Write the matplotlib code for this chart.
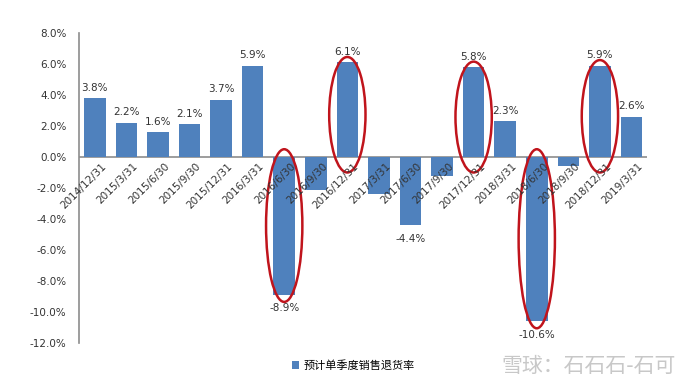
import matplotlib
matplotlib.use("Agg")
import matplotlib.pyplot as plt
from matplotlib.patches import Ellipse

plt.rcParams['font.family'] = ['DejaVu Sans', 'Noto Sans CJK SC']

# data
dates = ['2014/12/31', '2015/3/31', '2015/6/30', '2015/9/30', '2015/12/31',
         '2016/3/31', '2016/6/30', '2016/9/30', '2016/12/31', '2017/3/31',
         '2017/6/30', '2017/9/30', '2017/12/31', '2018/3/31', '2018/6/30',
         '2018/9/30', '2018/12/31', '2019/3/31']
return_rate = [3.8, 2.2, 1.6, 2.1, 3.7, 5.9, -8.9, -2.1, 6.1, -2.4,
               -4.4, -1.2, 5.8, 2.3, -10.6, -0.6, 5.9, 2.6]
labelled = [0, 1, 2, 3, 4, 5, 6, 8, 10, 12, 13, 14, 16, 17]
circled = [6, 8, 12, 14, 16]
series_name = '预计单季度销售退货率'

fig = plt.figure(figsize=(6.93, 3.90), dpi=100)
ax = fig.add_axes([0.114, 0.1205, 0.820, 0.795])

x = list(range(len(dates)))
ax.bar(x, return_rate, width=0.68, color='#4f81bd', label=series_name, zorder=2)

# value labels
for i in labelled:
    v = return_rate[i]
    if v >= 0:
        ax.annotate(f'{v:.1f}%', (i, v), xytext=(0, 4), textcoords='offset points',
                    ha='center', va='bottom', fontsize=7.5, color='#333333')
    else:
        ax.annotate(f'{v:.1f}%', (i, v), xytext=(0, -6), textcoords='offset points',
                    ha='center', va='top', fontsize=7.5, color='#333333')

# red ellipses around highlighted bars
for i in circled:
    v = return_rate[i]
    if v >= 0:
        lo, hi = -1.0, v + 0.35
    else:
        lo, hi = v - 0.45, 0.5
    ax.add_patch(Ellipse((i, (lo + hi) / 2), 1.15, hi - lo, fill=False,
                         edgecolor='#c0141c', linewidth=1.8, zorder=3))

# category labels sit on the zero line
for i, d in enumerate(dates):
    ax.text(i + 0.2, -0.25, d, rotation=45, ha='right', va='top',
            rotation_mode='anchor', fontsize=7.5, color='#333333')

ax.axhline(0, color='#8c8c8c', linewidth=1.2, zorder=1)
ax.set_xlim(-0.5, 17.5)
ax.set_ylim(-12, 8)
ticks = [8, 6, 4, 2, 0, -2, -4, -6, -8, -10, -12]
ax.set_yticks(ticks)
ax.set_yticklabels([f'{t:.1f}%' for t in ticks], fontsize=7.5, color='#333333')
ax.set_xticks([])
ax.tick_params(axis='y', length=0, pad=9)
for s in ['top', 'right', 'bottom']:
    ax.spines[s].set_visible(False)
ax.spines['left'].set_color('#8c8c8c')
ax.spines['left'].set_linewidth(1.2)

fig.legend(loc='center', bbox_to_anchor=(0.51, 0.062), frameon=False,
           fontsize=8, handlelength=0.7, handleheight=0.7, handletextpad=0.4)

fig.text(0.975, 0.062, '雪球：石石石-石可', ha='right', va='center', fontsize=15,
         color='#c8c8c8', family=['Noto Sans CJK SC', 'DejaVu Sans'])

fig.savefig('out.png', dpi=100)
